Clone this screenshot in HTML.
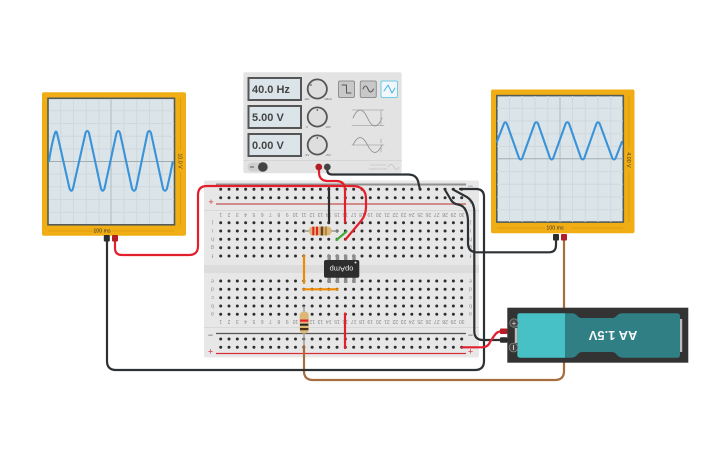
<!DOCTYPE html>
<html>
<head>
<meta charset="utf-8">
<style>
html,body{margin:0;padding:0;background:#fff;}
svg{display:block;font-family:"Liberation Sans",sans-serif;}
.w{fill:none;stroke-linecap:round;stroke-linejoin:round;}
.h{stroke:#2e2e2e;stroke-width:3;stroke-linecap:round;stroke-dasharray:0 8.31;fill:none;}
.n text{font-size:5px;fill:#888;text-anchor:middle;}
.g{stroke:#cfd9dd;stroke-width:1;}
</style>
</head>
<body>
<svg width="725" height="453" viewBox="0 0 725 453" xmlns="http://www.w3.org/2000/svg">
<rect width="725" height="453" fill="#fff"/>

<!-- Breadboard -->
<rect x="204" y="180.5" width="275" height="177" rx="2" fill="#e7e7e7"/>
<rect x="204" y="210" width="275" height="1" fill="#d8d8d8"/>
<rect x="204" y="265" width="275" height="8" fill="#dcdcdc"/>
<rect x="204" y="327" width="275" height="1" fill="#d8d8d8"/>
<line x1="216" y1="184.5" x2="466" y2="184.5" stroke="#8f8f8f" stroke-width="2"/>
<line x1="216" y1="204" x2="466" y2="204" stroke="#d08a8a" stroke-width="2"/>
<line x1="216" y1="333.5" x2="466" y2="333.5" stroke="#555" stroke-width="1.2"/>
<line x1="216" y1="353.5" x2="466" y2="353.5" stroke="#d9303a" stroke-width="1.2"/>

<g class="h">
<path d="M220.7 189.3H463"/><path d="M220.7 197.7H463"/>
<path d="M220.7 222.7H463"/><path d="M220.7 231H463"/><path d="M220.7 239.3H463"/><path d="M220.7 247.7H463"/><path d="M220.7 256H463"/>
<path d="M220.7 281H463"/><path d="M220.7 289.3H463"/><path d="M220.7 297.7H463"/><path d="M220.7 306H463"/><path d="M220.7 314.3H463"/>
<path d="M220.7 339H463"/><path d="M220.7 347.3H463"/>
</g>

<g class="n" transform="rotate(180)">
<text x="-220.7" y="-213">1</text><text x="-229" y="-213">2</text><text x="-237.3" y="-213">3</text><text x="-245.6" y="-213">4</text><text x="-253.9" y="-213">5</text><text x="-262.2" y="-213">6</text><text x="-270.6" y="-213">7</text><text x="-278.9" y="-213">8</text><text x="-287.2" y="-213">9</text><text x="-295.5" y="-213">10</text><text x="-303.8" y="-213">11</text><text x="-312.1" y="-213">12</text><text x="-320.4" y="-213">13</text><text x="-328.7" y="-213">14</text><text x="-337" y="-213">15</text><text x="-345.3" y="-213">16</text><text x="-353.7" y="-213">17</text><text x="-362" y="-213">18</text><text x="-370.3" y="-213">19</text><text x="-378.6" y="-213">20</text><text x="-386.9" y="-213">21</text><text x="-395.2" y="-213">22</text><text x="-403.5" y="-213">23</text><text x="-411.8" y="-213">24</text><text x="-420.1" y="-213">25</text><text x="-428.4" y="-213">26</text><text x="-436.8" y="-213">27</text><text x="-445.1" y="-213">28</text><text x="-453.4" y="-213">29</text><text x="-461.7" y="-213">30</text>
<text x="-220.7" y="-320">1</text><text x="-229" y="-320">2</text><text x="-237.3" y="-320">3</text><text x="-245.6" y="-320">4</text><text x="-253.9" y="-320">5</text><text x="-262.2" y="-320">6</text><text x="-270.6" y="-320">7</text><text x="-278.9" y="-320">8</text><text x="-287.2" y="-320">9</text><text x="-295.5" y="-320">10</text><text x="-303.8" y="-320">11</text><text x="-312.1" y="-320">12</text><text x="-320.4" y="-320">13</text><text x="-328.7" y="-320">14</text><text x="-337" y="-320">15</text><text x="-345.3" y="-320">16</text><text x="-353.7" y="-320">17</text><text x="-362" y="-320">18</text><text x="-370.3" y="-320">19</text><text x="-378.6" y="-320">20</text><text x="-386.9" y="-320">21</text><text x="-395.2" y="-320">22</text><text x="-403.5" y="-320">23</text><text x="-411.8" y="-320">24</text><text x="-420.1" y="-320">25</text><text x="-428.4" y="-320">26</text><text x="-436.8" y="-320">27</text><text x="-445.1" y="-320">28</text><text x="-453.4" y="-320">29</text><text x="-461.7" y="-320">30</text>
<text x="-212.5" y="-221">j</text><text x="-212.5" y="-229">i</text><text x="-212.5" y="-237.5">h</text><text x="-212.5" y="-246">g</text><text x="-212.5" y="-254">f</text>
<text x="-212.5" y="-279.5">e</text><text x="-212.5" y="-287.5">d</text><text x="-212.5" y="-296">c</text><text x="-212.5" y="-304.5">b</text><text x="-212.5" y="-312.5">a</text>
<text x="-470.5" y="-221">j</text><text x="-470.5" y="-229">i</text><text x="-470.5" y="-237.5">h</text><text x="-470.5" y="-246">g</text><text x="-470.5" y="-254">f</text>
<text x="-470.5" y="-279.5">e</text><text x="-470.5" y="-287.5">d</text><text x="-470.5" y="-296">c</text><text x="-470.5" y="-304.5">b</text><text x="-470.5" y="-312.5">a</text>
</g>
<g font-size="9" text-anchor="middle">
<text x="211" y="189" fill="#666">−</text>
<text x="211" y="205" fill="#d9303a">+</text>
<text x="210.5" y="338" fill="#555">−</text>
<text x="210.5" y="354.5" fill="#d9303a">+</text>
<text x="470.5" y="189" fill="#888">−</text>
<text x="470.5" y="205" fill="#d9a0a0">+</text>
<text x="470.5" y="338" fill="#555">−</text>
<text x="470.5" y="354.5" fill="#d9303a">+</text>
</g>

<!-- Oscilloscope left -->
<rect x="42" y="92.3" width="144" height="143.5" rx="2" fill="#f1ae14"/>
<line x1="48" y1="231" x2="96" y2="231" stroke="#d8990f" stroke-width=".8"/>
<line x1="112" y1="231" x2="174" y2="231" stroke="#d8990f" stroke-width=".8"/>
<line x1="180.5" y1="98" x2="180.5" y2="150" stroke="#d8990f" stroke-width=".8"/>
<line x1="180.5" y1="172" x2="180.5" y2="225" stroke="#d8990f" stroke-width=".8"/>
<rect x="48" y="98.3" width="126.5" height="126.5" fill="#dbe5e9" stroke="#535c59" stroke-width="1.6"/>
<g class="g">
<path d="M60.8 99V224M73.5 99V224M86.2 99V224M99 99V224M124 99V224M136.8 99V224M149.5 99V224M162.2 99V224"/>
<path d="M49 110.8H174M49 123.5H174M49 136.2H174M49 149H174M49 174H174M49 186.8H174M49 199.5H174M49 212.2H174"/>
</g>
<line x1="111" y1="99" x2="111" y2="224" stroke="#bcc8cc" stroke-width="1.4"/>
<line x1="49" y1="161.5" x2="174" y2="161.5" stroke="#a2adb0" stroke-width="1"/>
<path class="w" stroke="#3a92d8" stroke-width="2.1" d="M49 161Q52 142 55 133Q56 130 57 133L69.5 188.5Q71.3 193 73 188.5L85.5 133Q87.3 129 89 133L101 188.5Q102.7 193 104.5 188.5L116.5 133Q118.3 129 120 133L132 188.5Q134 193 136 188.5L147.5 133Q149.3 129 151 133L163 188.5Q165 193 167 188.5Q170 176 172.7 162"/>
<text x="102" y="232.5" font-size="5.3" fill="#333" text-anchor="middle">100 ms</text>
<text transform="translate(178.5 161) rotate(90)" font-size="5.3" fill="#333" text-anchor="middle">10.0 V</text>

<!-- Oscilloscope right -->
<rect x="491" y="89.5" width="143.5" height="143.8" rx="2" fill="#f1ae14"/>
<line x1="497" y1="228" x2="545" y2="228" stroke="#d8990f" stroke-width=".8"/>
<line x1="572" y1="228" x2="623" y2="228" stroke="#d8990f" stroke-width=".8"/>
<line x1="629" y1="96" x2="629" y2="148" stroke="#d8990f" stroke-width=".8"/>
<line x1="629" y1="172" x2="629" y2="222" stroke="#d8990f" stroke-width=".8"/>
<rect x="496.8" y="95.6" width="126.5" height="126.5" fill="#dbe5e9" stroke="#535c59" stroke-width="1.6"/>
<g class="g">
<path d="M509.5 96V222M522.2 96V222M535 96V222M547.7 96V222M572.5 96V222M585.2 96V222M598 96V222M610.7 96V222"/>
<path d="M497 108.3H623M497 121H623M497 133.7H623M497 146.4H623M497 171.6H623M497 184.3H623M497 197H623M497 209.7H623"/>
</g>
<line x1="560" y1="96" x2="560" y2="222" stroke="#bcc8cc" stroke-width="1.4"/>
<line x1="497" y1="158.8" x2="623" y2="158.8" stroke="#a2adb0" stroke-width="1"/>
<path class="w" stroke="#3a92d8" stroke-width="2.1" d="M497 141.5L504 123.5Q505.3 121 506.8 123.5L519 158Q520.7 161 522.3 158L534.7 123.5Q536.3 121 538 123.5L550 158Q551.7 161 553.3 158L565.7 123.5Q567.3 121 569 123.5L581 158Q582.7 161 584.3 158L596.5 123.5Q598 121 599.6 123.5L612.3 158Q614 161 615.7 158L621.8 142"/>
<text x="555" y="229.7" font-size="5.3" fill="#333" text-anchor="middle">100 ms</text>
<text transform="translate(627 160) rotate(90)" font-size="5.3" fill="#333" text-anchor="middle">4.00 V</text>

<!-- Function generator -->
<rect x="243.3" y="72.3" width="158.4" height="101" rx="2" fill="#e3e3e3"/>
<line x1="243.3" y1="160.5" x2="401.7" y2="160.5" stroke="#d2d2d2" stroke-width=".8"/>
<g fill="#dbe5e9" stroke="#555" stroke-width="2">
<rect x="248.5" y="78" width="52.5" height="22"/>
<rect x="248.5" y="106" width="52.5" height="22"/>
<rect x="248.5" y="134" width="52.5" height="22"/>
</g>
<g font-size="11" font-weight="bold" fill="#444">
<text x="252" y="93">40.0 Hz</text>
<text x="252" y="121">5.00 V</text>
<text x="252" y="149">0.00 V</text>
</g>
<g fill="#dedede" stroke="#555" stroke-width="1.8">
<circle cx="317.3" cy="89" r="9.6"/>
<circle cx="317.3" cy="117" r="9.6"/>
<circle cx="317.3" cy="145" r="9.6"/>
</g>
<g fill="#444">
<circle cx="311" cy="85" r=".8"/>
<circle cx="317.3" cy="110" r=".8"/>
<circle cx="317.3" cy="138" r=".8"/>
</g>
<g font-size="3" fill="#666" text-anchor="middle">
<text x="307" y="100">1Hz</text><text x="328" y="100">1MHz</text>
<text x="307" y="128">0</text><text x="328" y="128">10V</text>
<text x="307" y="156">-5V</text><text x="328" y="156">+5V</text>
</g>
<rect x="338.5" y="81" width="16" height="16.5" rx="1.5" fill="#c8c8c8" stroke="#8f8f8f"/>
<rect x="360.3" y="81" width="16" height="16.5" rx="1.5" fill="#c8c8c8" stroke="#8f8f8f"/>
<rect x="381" y="81" width="16.5" height="16.5" rx="1.5" fill="#f1f7fa" stroke="#6fcbe8"/>
<path class="w" stroke="#555" stroke-width="1" d="M342 85H346.5V93H351"/>
<path class="w" stroke="#555" stroke-width="1" d="M363 89Q365.5 83 368 89T373.5 89"/>
<path class="w" stroke="#4ab3e0" stroke-width="1" d="M384 91L388 85L392 93L395 88"/>
<g class="w" stroke="#aaa" stroke-width=".8">
<path d="M352 110H384M352 125.5H384"/>
<path d="M353 118Q360 102 367.5 118T382 118" stroke="#888"/>
<path d="M381 110V125.5"/>
<path d="M352 145H384"/>
<path d="M353 145Q360 130 367.5 145T382 145" stroke="#888"/>
<path d="M381 139V143M381 147V152"/>
</g>
<rect x="247.5" y="162.5" width="21" height="9" rx="4.5" fill="#cfcfcf"/>
<circle cx="262.8" cy="167" r="4.8" fill="#444"/>
<rect x="250" y="166.5" width="4" height="1" fill="#555"/>
<g font-size="3" fill="#c2c2c2" text-anchor="middle"><text x="378" y="166">FUNCTION</text><text x="378" y="170">GENERATOR</text></g>
<path class="w" stroke="#c2c2c2" stroke-width=".8" d="M388 167Q391 162 394 167T399 167"/>

<!-- Jumpers on the board -->
<g class="w">
<path stroke="#2b2f33" stroke-width="2.2" d="M329 188V222.5"/>
<path stroke="#f08a00" stroke-width="2.2" d="M304 256V283"/>
<path stroke="#f08a00" stroke-width="2.2" d="M303.5 289.3H337.5"/>
<path stroke="#e1202c" stroke-width="2.2" d="M345 313.5V348"/>
<path stroke="#45a83a" stroke-width="2.2" d="M336.5 240L346.5 231.5"/>
</g>

<!-- Resistor horizontal -->
<line x1="304" y1="231" x2="338" y2="231" stroke="#9a9a9a" stroke-width="1.4"/>
<rect x="309" y="226.5" width="22.5" height="9" rx="4" fill="#dcb877"/>
<rect x="312.3" y="226.7" width="2" height="8.6" fill="#e8202c"/>
<rect x="316" y="226.7" width="2" height="8.6" fill="#e8202c"/>
<rect x="320.7" y="226.5" width="2.5" height="9" fill="#6b4323"/>
<rect x="324.8" y="226.5" width="2.2" height="9" fill="#b8893d"/>

<!-- Resistor vertical -->
<line x1="304" y1="306" x2="304" y2="346" stroke="#9a9a9a" stroke-width="1.4"/>
<rect x="299.7" y="311.5" width="9" height="22" rx="4" fill="#dcb877"/>
<rect x="300" y="319.5" width="8.4" height="2.2" fill="#e8202c"/>
<rect x="300" y="323.7" width="8.4" height="2" fill="#222"/>
<rect x="300" y="328" width="8.4" height="2.2" fill="#4b3018"/>

<!-- Chip -->
<g fill="#8d8d8d">
<rect x="327.5" y="255" width="3.4" height="6"/><rect x="335.8" y="255" width="3.4" height="6"/><rect x="344" y="255" width="3.4" height="6"/><rect x="352.3" y="255" width="3.4" height="6"/>
<rect x="327.5" y="277" width="3.4" height="6"/><rect x="335.8" y="277" width="3.4" height="6"/><rect x="344" y="277" width="3.4" height="6"/><rect x="352.3" y="277" width="3.4" height="6"/>
</g>
<rect x="324" y="260" width="35.3" height="17.7" rx="2" fill="#2d2d2d"/>
<circle cx="355.5" cy="262.5" r="1" fill="#ddd"/>
<text transform="rotate(180 341.5 269)" x="341.5" y="271.5" font-size="7.5" fill="#eee" text-anchor="middle">opAmp</text>

<!-- Long wires -->
<g class="w" stroke-width="2.2">
<path stroke="#a56e3c" d="M304 346V371Q304 380 313 380H555Q564 380 564 371V238"/>
<path stroke="#2e3134" d="M107 238V361Q107 370 116 370H475Q484 370 484 361V197Q484 189 476 189H460"/>
<path stroke="#2e3134" d="M327.3 167V170Q327.3 174.5 332 174.5H408Q416 174.5 418 181L420 189.5"/>
<path stroke="#2e3134" d="M444.5 189L451 200Q453.5 204 458 204.5Q464 205.5 466 211Q468 215 468 222V243Q468 252.3 477 252.3H549Q556 252.3 556 245V238"/>
<path stroke="#2e3134" d="M452.7 189.3L464 195.5Q474.3 200 474.3 212V331Q474.3 340 483 340H504"/>
<path stroke="#e1202c" d="M115 238V248Q115 255 122 255H189Q198 255 198 246V195Q198 186 207 186H352Q366 186 366 199V207Q366 215 361 221L345.5 239.5"/>
<path stroke="#e1202c" d="M319 167V172Q319 181 328 181H336Q345 181 345 190V222.5"/>
<path stroke="#e1202c" d="M462 347.3H482Q488 347.3 490 342L494 336Q497 331 503 331"/>
</g>
<g>
<rect x="103.8" y="235" width="6" height="6.5" rx="1" fill="#2c2c2c"/>
<rect x="112" y="235" width="6" height="6.5" rx="1" fill="#b31e26"/>
<rect x="553" y="234" width="6" height="6.5" rx="1" fill="#2c2c2c"/>
<rect x="561" y="234" width="6" height="6.5" rx="1" fill="#b31e26"/>
<circle cx="318.8" cy="167" r="3.4" fill="#b31e26"/>
<circle cx="327.3" cy="167" r="3.4" fill="#444"/>
<rect x="500" y="328.5" width="7.5" height="5.5" rx="1" fill="#b31e26"/>
<rect x="500" y="337.3" width="7.5" height="5.5" rx="1" fill="#2c2c2c"/>
</g>

<!-- Battery -->
<rect x="507.3" y="307.7" width="181" height="55" fill="#333"/>
<path fill="#2f7f85" d="M565 313.3H571Q575 313.3 577 315.5Q579 318 582 318H612Q615 318 617 315.5Q619 313.3 623 313.3H677Q680 313.3 680 316.3V354.7Q680 357.7 677 357.7H623Q619 357.7 617 355Q615 352 612 352H582Q579 352 577 355Q575 357.7 571 357.7H565Z"/>
<path fill="#47c1c6" d="M520 313.3H565V357.7H520Q517.3 357.7 517.3 355V316Q517.3 313.3 520 313.3Z"/>
<rect x="514.8" y="328" width="2.5" height="15" fill="#bdbdbd"/>
<rect x="680" y="319" width="2.2" height="33" fill="#bdbdbd"/>
<circle cx="514" cy="323" r="4.2" fill="#444" stroke="#8a8a8a" stroke-width=".8"/>
<text x="514" y="326" font-size="8" fill="#ddd" text-anchor="middle">+</text>
<circle cx="513.5" cy="347.5" r="4.4" fill="#444" stroke="#8a8a8a" stroke-width=".8"/>
<rect x="513" y="345" width="1" height="5" fill="#ccc"/>
<text transform="rotate(180 613 336)" x="613" y="341" font-size="13" font-weight="bold" fill="#f2f7f7" text-anchor="middle">AA 1.5V</text>
</svg>
</body>
</html>
